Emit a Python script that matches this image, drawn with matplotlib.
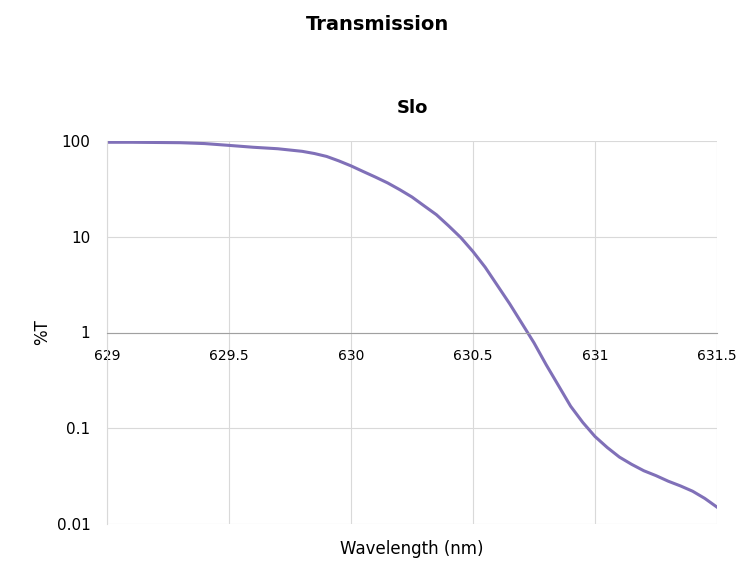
import matplotlib
matplotlib.use("Agg")
import matplotlib.pyplot as plt

wavelength = [629.0, 629.1, 629.2, 629.3, 629.4, 629.5, 629.6, 629.7, 629.8, 629.85, 629.9, 629.95, 630.0, 630.05, 630.1, 630.15, 630.2, 630.25, 630.3, 630.35, 630.4, 630.45, 630.5, 630.55, 630.6, 630.65, 630.7, 630.75, 630.8, 630.85, 630.9, 630.95, 631.0, 631.05, 631.1, 631.15, 631.2, 631.25, 631.3, 631.35, 631.4, 631.45, 631.5]
transmission = [97, 97, 96.5, 96, 94, 90, 86, 83, 78, 74, 69, 62, 55, 48, 42, 36.5, 31, 26, 21, 17, 13, 9.8, 7, 4.8, 3.1, 2.0, 1.25, 0.78, 0.46, 0.28, 0.17, 0.115, 0.082, 0.063, 0.05, 0.042, 0.036, 0.032, 0.028, 0.025, 0.022, 0.0185, 0.015]
xticks = [629, 629.5, 630, 630.5, 631, 631.5]
xticklabels = ["629", "629.5", "630", "630.5", "631", "631.5"]
yticks = [0.01, 0.1, 1, 10, 100]
yticklabels = ["0.01", "0.1", "1", "10", "100"]

fig = plt.figure(figsize=(7.56, 5.67), dpi=100)
ax = fig.add_axes([107/756, 1-524/567, 610/756, 383/567])
ax.plot(wavelength, transmission, color="#8070B8", lw=2.2)
ax.set_yscale("log")
ax.set_xlim(629, 631.5)
ax.set_ylim(0.01, 100)
ax.set_xticks(xticks)
ax.set_xticklabels(xticklabels, fontsize=11)
ax.set_yticks(yticks)
ax.set_yticklabels(yticklabels, fontsize=11)
ax.minorticks_off()
ax.grid(True, color="#d9d9d9", lw=0.8)
for s in ["top", "right"]:
    ax.spines[s].set_visible(False)
ax.spines["left"].set_color("#d9d9d9")
ax.spines["bottom"].set_position(("data", 1))
ax.spines["bottom"].set_color("#a0a0a0")
ax.tick_params(length=0, pad=12)
ax.tick_params(axis="x", pad=12)
ax.set_ylabel("%T", fontsize=12)
ax.set_title("Slo", fontsize=13, fontweight="bold", pad=20)
fig.text(0.5, 1-24/567, "Transmission", ha="center", va="center", fontsize=14, fontweight="bold")
fig.text(ax.get_position().x0 + ax.get_position().width/2, 1-549/567, "Wavelength (nm)", ha="center", va="center", fontsize=12)
fig.savefig("out.png", dpi=100)
